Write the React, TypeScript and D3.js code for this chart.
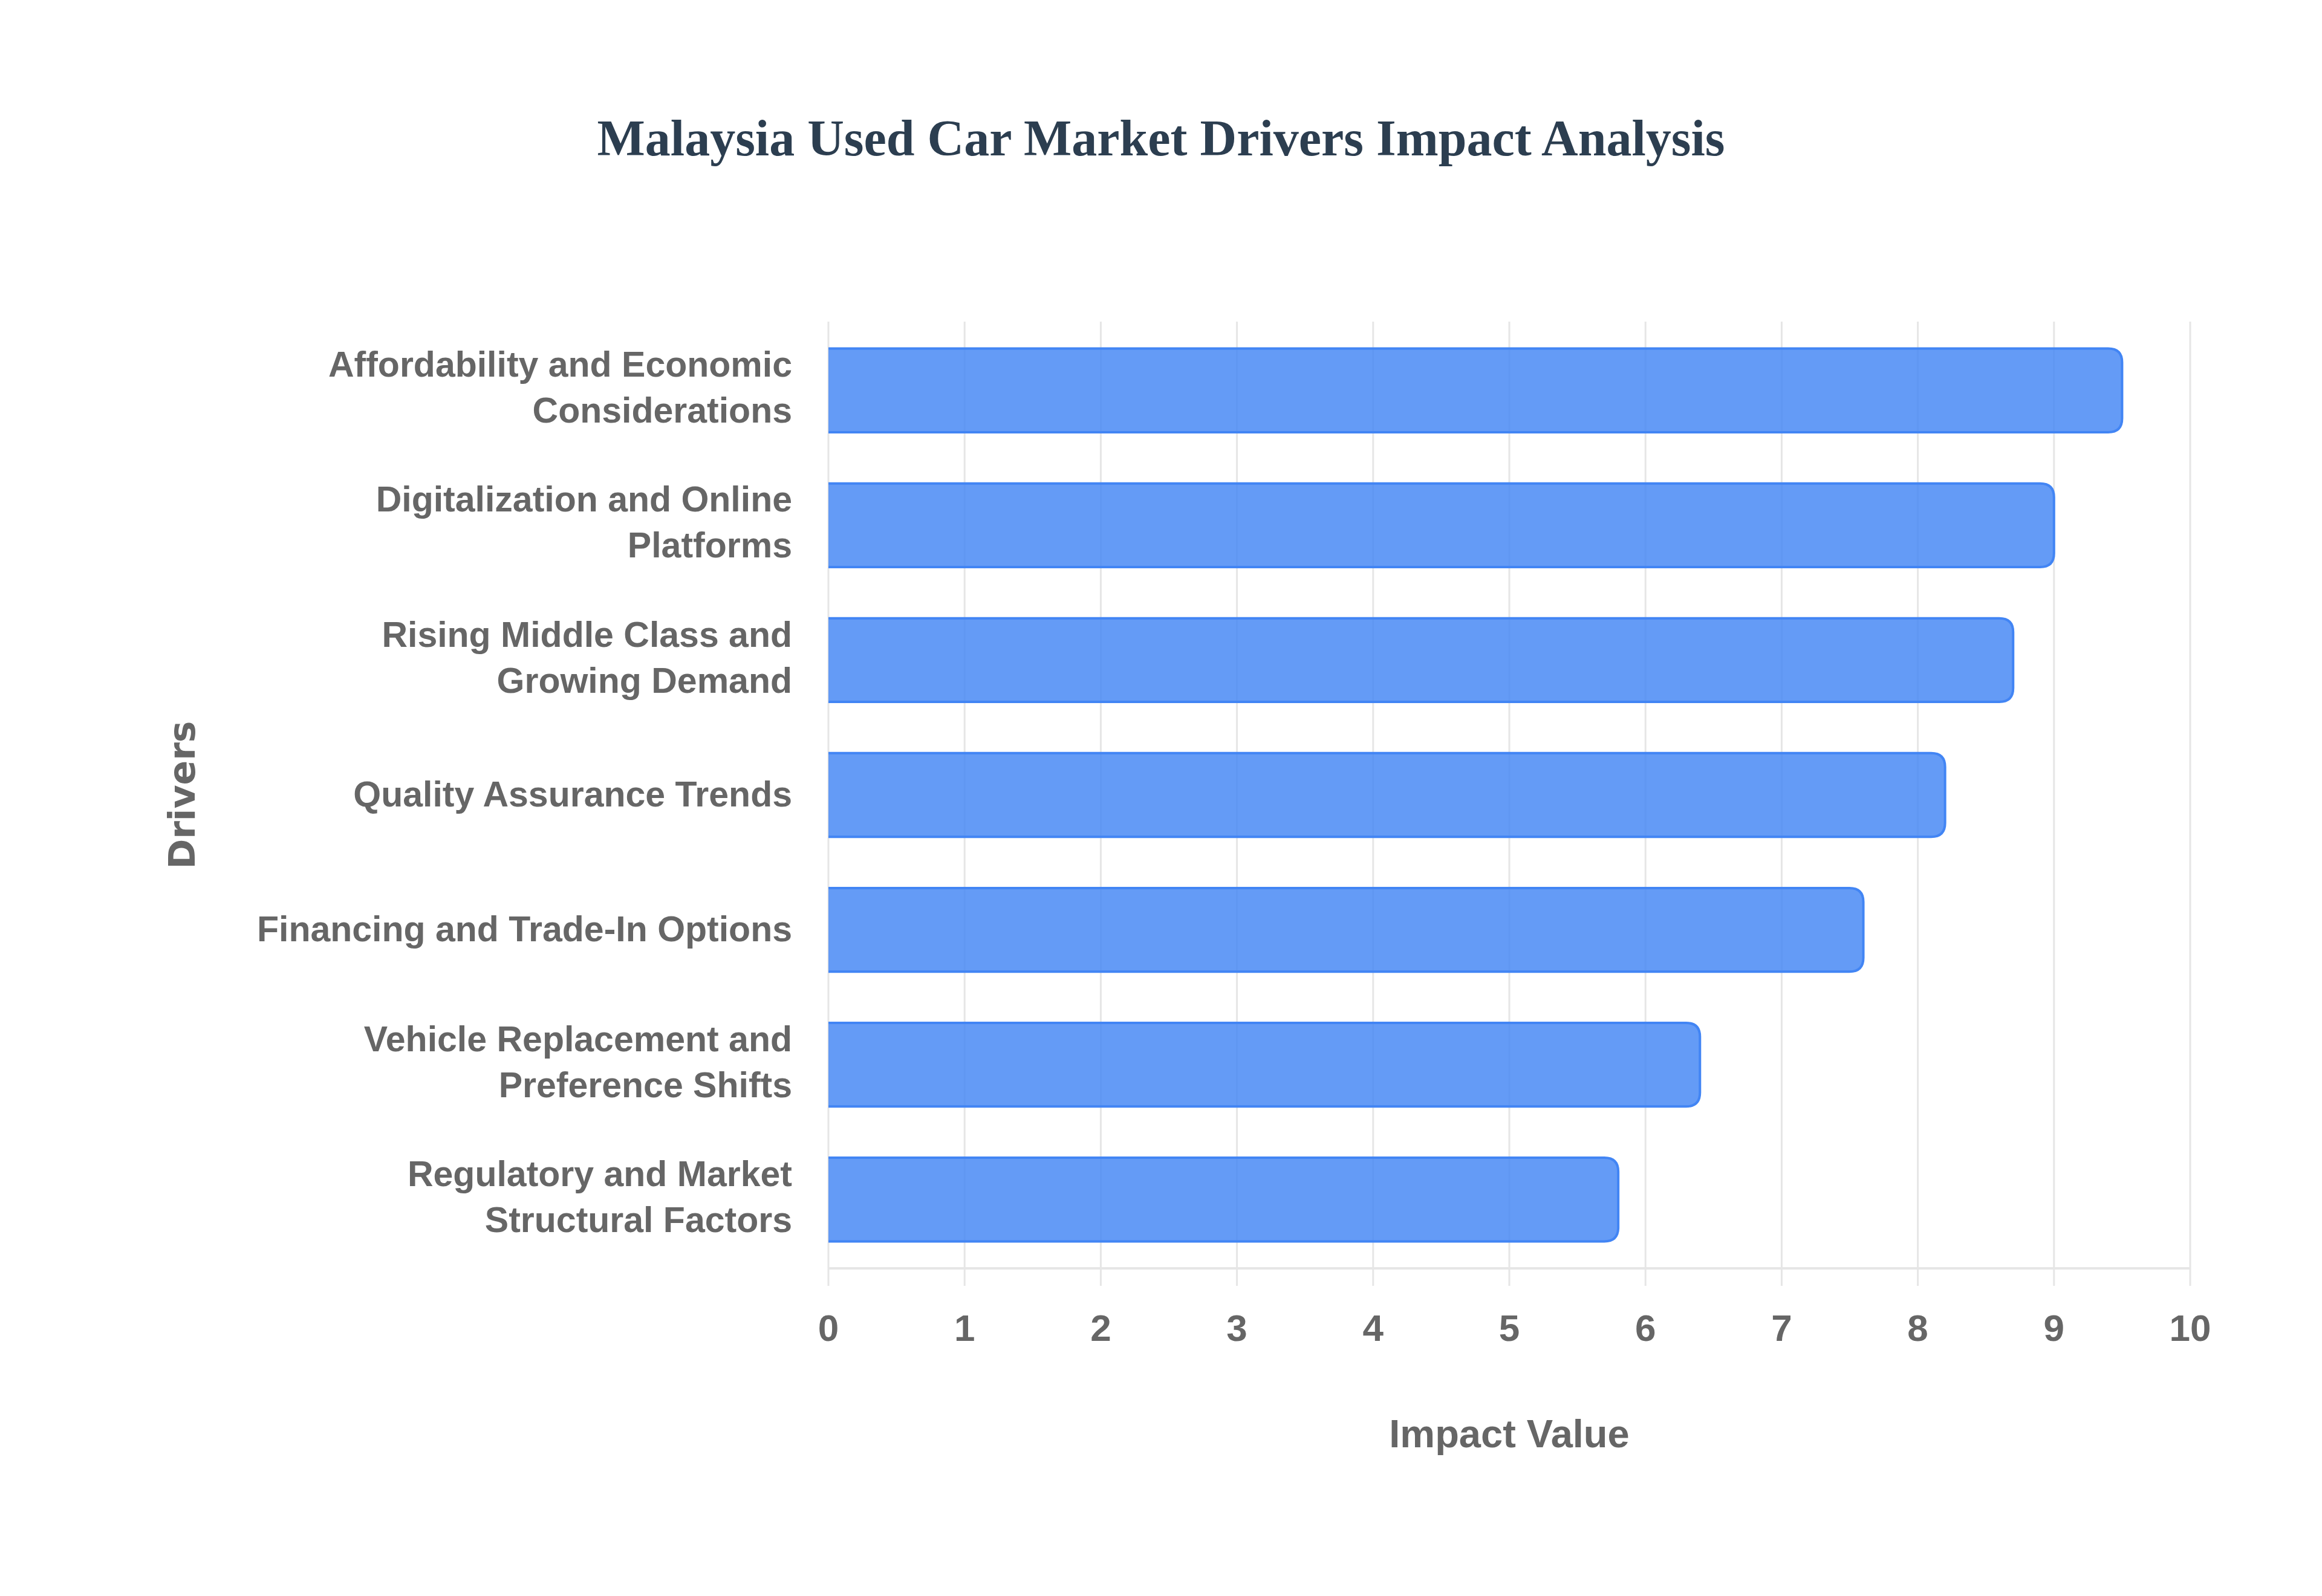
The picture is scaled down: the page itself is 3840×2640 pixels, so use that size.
import React, { useEffect, useRef } from 'react';
import * as d3 from 'd3';

const drivers = [
  ['Affordability and Economic', 'Considerations'],
  ['Digitalization and Online', 'Platforms'],
  ['Rising Middle Class and', 'Growing Demand'],
  ['Quality Assurance Trends'],
  ['Financing and Trade-In Options'],
  ['Vehicle Replacement and', 'Preference Shifts'],
  ['Regulatory and Market', 'Structural Factors'],
];
const impactValues = [9.5, 9.0, 8.7, 8.2, 7.6, 6.4, 5.8];
const xTicks = [0, 1, 2, 3, 4, 5, 6, 7, 8, 9, 10];

const App: React.FC = () => {
  const svgRef = useRef<SVGSVGElement>(null);

  useEffect(() => {
    if (!svgRef.current) return;
    document.body.style.margin = '0';

    const width = 3840;
    const height = 2640;
    const margin = { top: 532, right: 218, bottom: 542, left: 1370 };
    const sans = '"Liberation Sans", Arial, sans-serif';
    const labelColor = '#666666';
    const gridColor = '#e6e6e6';

    const svg = d3.select(svgRef.current);
    svg.selectAll('*').remove();

    const innerW = width - margin.left - margin.right;
    const innerH = height - margin.top - margin.bottom;

    const x = d3.scaleLinear().domain([0, 10]).range([0, innerW]);
    const y = d3.scaleBand<number>()
      .domain(d3.range(drivers.length))
      .range([0, innerH])
      .paddingInner(0.38)
      .paddingOuter(0.2);

    // Title
    svg.append('text')
      .attr('x', width / 2)
      .attr('y', 257)
      .attr('text-anchor', 'middle')
      .style('font-family', '"Liberation Serif", "Times New Roman", serif')
      .style('font-weight', 'bold')
      .style('font-size', '84px')
      .style('fill', '#2c3e50')
      .text('Malaysia Used Car Market Drivers Impact Analysis');

    const g = svg.append('g')
      .attr('transform', `translate(${margin.left},${margin.top})`);

    // Vertical grid lines, extending below the axis as ticks
    g.selectAll('.grid')
      .data(xTicks)
      .enter().append('line')
      .attr('class', 'grid')
      .attr('x1', d => x(d))
      .attr('x2', d => x(d))
      .attr('y1', 0)
      .attr('y2', innerH + 29)
      .attr('stroke', gridColor)
      .attr('stroke-width', 3);

    // Bottom axis line
    g.append('line')
      .attr('x1', 0)
      .attr('x2', innerW)
      .attr('y1', innerH)
      .attr('y2', innerH)
      .attr('stroke', gridColor)
      .attr('stroke-width', 4);

    // Bars: flat at the start, rounded at the end
    const r = 23;
    const barPath = (v: number, i: number) => {
      const x1 = x(v);
      const y0 = y(i)!;
      const h = y.bandwidth();
      const rr = Math.min(r, x1 / 2, h / 2);
      return `M0,${y0}H${x1 - rr}Q${x1},${y0} ${x1},${y0 + rr}V${y0 + h - rr}Q${x1},${y0 + h} ${x1 - rr},${y0 + h}H0`;
    };

    g.selectAll('.bar')
      .data(impactValues)
      .enter().append('path')
      .attr('class', 'bar')
      .attr('d', (d, i) => barPath(d, i) + 'Z')
      .attr('fill', '#4285f4')
      .attr('fill-opacity', 0.82)
      .attr('stroke', 'none');

    g.selectAll('.bar-edge')
      .data(impactValues)
      .enter().append('path')
      .attr('class', 'bar-edge')
      .attr('d', (d, i) => barPath(d, i))
      .attr('fill', 'none')
      .attr('stroke', '#4285f4')
      .attr('stroke-width', 4);

    // Category labels
    const lineH = 76;
    const labels = g.selectAll('.ylabel')
      .data(drivers)
      .enter().append('text')
      .attr('class', 'ylabel')
      .attr('text-anchor', 'end')
      .style('font-family', sans)
      .style('font-weight', 'bold')
      .style('font-size', '59px')
      .style('fill', labelColor);

    labels.each(function (lines, i) {
      const cy = y(i)! + y.bandwidth() / 2 - (lines.length > 1 ? 5 : 2);
      const first = cy - ((lines.length - 1) * lineH) / 2;
      d3.select(this).selectAll('tspan')
        .data(lines)
        .enter().append('tspan')
        .attr('x', -60)
        .attr('y', (_, j) => first + j * lineH)
        .attr('dy', '0.35em')
        .text(t => t);
    });

    // X tick labels
    g.selectAll('.xtick')
      .data(xTicks)
      .enter().append('text')
      .attr('class', 'xtick')
      .attr('x', d => x(d))
      .attr('y', innerH + 120)
      .attr('text-anchor', 'middle')
      .style('font-family', sans)
      .style('font-weight', 'bold')
      .style('font-size', '62px')
      .style('fill', labelColor)
      .text(d => String(d));

    // Axis titles
    g.append('text')
      .attr('x', innerW / 2)
      .attr('y', innerH + 296)
      .attr('text-anchor', 'middle')
      .style('font-family', sans)
      .style('font-weight', 'bold')
      .style('font-size', '65px')
      .style('fill', labelColor)
      .text('Impact Value');

    svg.append('text')
      .attr('transform', `translate(${301},${margin.top + innerH / 2}) rotate(-90)`)
      .attr('text-anchor', 'middle')
      .attr('dy', '0.35em')
      .style('font-family', '"DejaVu Sans", Verdana, sans-serif')
      .style('font-weight', 'bold')
      .style('font-size', '60px')
      .style('fill', labelColor)
      .text('Drivers');
  }, []);

  return (
    <svg ref={svgRef} width="3840" height="2640" viewBox="0 0 3840 2640" style={{ display: 'block', background: '#ffffff' }}></svg>
  );
};

export default App;
